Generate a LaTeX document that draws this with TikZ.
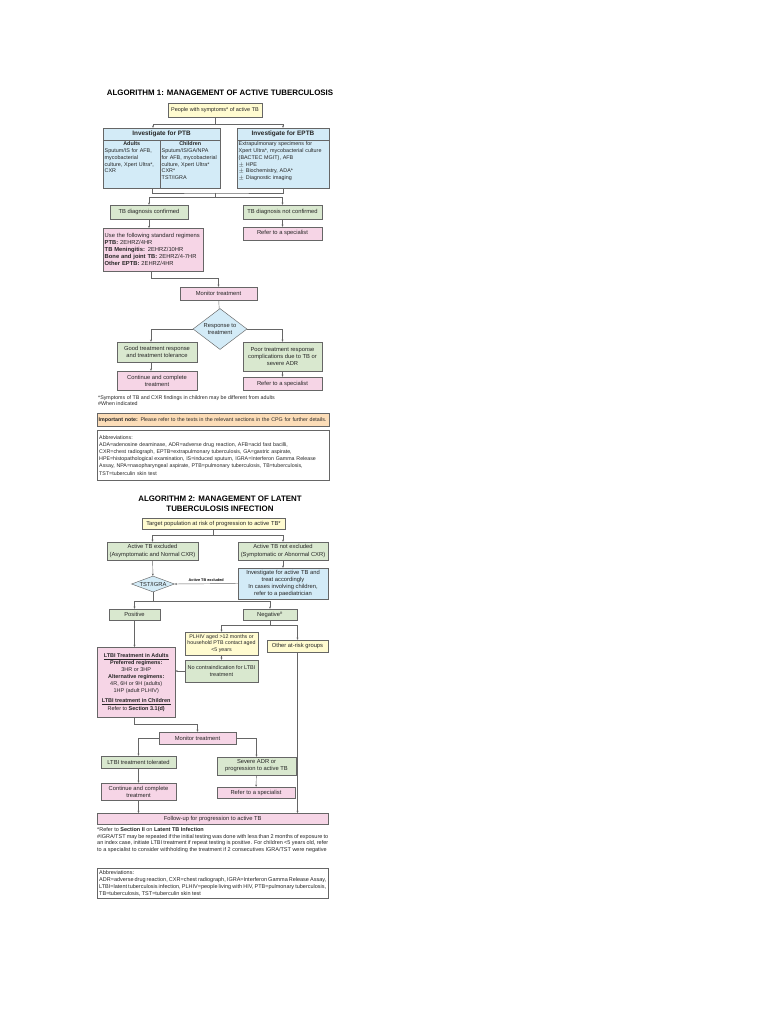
\documentclass[tikz,border=0pt]{standalone}
\usepackage{fontspec}
\setmainfont{Liberation Sans}
\usetikzlibrary{arrows.meta,shapes.geometric}
\definecolor{cy}{HTML}{FFFBD0}
\definecolor{cb}{HTML}{D3EBF7}
\definecolor{cg}{HTML}{D9E8CF}
\definecolor{cp}{HTML}{F6D5E6}
\definecolor{co}{HTML}{FCDDB8}
\definecolor{ce}{HTML}{666666}
\hyphenpenalty=10000
\tikzset{
 fs/.style={font=\fontsize{5.8}{7.1}\selectfont},
 bx/.style={draw=ce,line width=0.45pt,align=center,inner sep=1pt,fs,text=black!85},
 yb/.style={bx,fill=cy}, bb/.style={bx,fill=cb}, gb/.style={bx,fill=cg}, pb/.style={bx,fill=cp},
 sz/.style 2 args={minimum width=#1pt,minimum height=#2pt},
 ln/.style={draw=ce,line width=0.45pt},
 arr/.style={ln,-{Stealth[length=2.2pt,width=2pt]}},
 ttl/.style={font=\fontsize{7.9}{9.6}\selectfont\bfseries,align=center},
 note/.style={font=\fontsize{5.3}{6.6}\selectfont,align=left,inner sep=0pt,anchor=north west,text=black!85},
 intext/.style={font=\fontsize{5.4}{6.8}\selectfont,anchor=north,align=left,inner sep=1.5pt,text=black!85},
}
\begin{document}
\hyphenpenalty=10000
\begin{tikzpicture}[x=1pt,y=-1pt]
\useasboundingbox[fill=white] (0,0) rectangle (768,1024);
% ===== Algorithm 1 =====
\node[ttl] (t1) at (220,93) {ALGORITHM 1: MANAGEMENT OF ACTIVE TUBERCULOSIS};
\node[yb,sz={94}{14},font=\fontsize{5.5}{7}\selectfont] (people) at (215,110.5) {People with symptoms* of active TB};
\node[bb,sz={117}{12},font=\fontsize{6.4}{7.5}\selectfont\bfseries] (ptbh) at (161.5,134) {Investigate for PTB};
\node[bb,sz={57}{48},anchor=north west] (ptba) at (103,140) {};
\node[intext,text width=54pt] (ptbat) at (ptba.north) {\makebox[54pt]{\textbf{Adults}}\\Sputum/IS for AFB,\\mycobacterial\\culture, Xpert Ultra*,\\CXR};
\node[bb,sz={60}{48},anchor=north west] (ptbc) at (160,140) {};
\node[intext,text width=57pt] (ptbct) at (ptbc.north) {\makebox[57pt]{\textbf{Children}}\\Sputum/IS/GA/NPA\\for AFB, mycobacterial\\culture, Xpert Ultra*\\CXR*\\TST/IGRA};
\node[bb,sz={92}{12},font=\fontsize{6.4}{7.5}\selectfont\bfseries] (epth) at (283,134) {Investigate for EPTB};
\node[bb,sz={92}{48},anchor=north west] (eptb) at (237,140) {};
\node[intext,text width=89pt] (eptbt) at (eptb.north) {Extrapulmonary specimens for\\Xpert Ultra*, mycobacterial culture\\(BACTEC MGIT), AFB\\$\pm$ HPE\\$\pm$ Biochemistry, ADA*\\$\pm$ Diagnostic imaging};
\coordinate (j1) at (215,124);
\draw[ln] (people) -- (j1);
\draw[arr] (j1) -| ([xshift=-8.5pt]ptbh.north);
\draw[arr] (j1) -| (epth.north);
\coordinate (j2) at (215,193);
\coordinate (j3) at (215,197);
\draw[ln] ([xshift=-8.5pt]ptba.south east) |- (j2) -| (eptb.south);
\draw[ln] (j2) -- (j3);
\node[gb,sz={78}{14}] (conf) at (149,212) {TB diagnosis confirmed};
\node[gb,sz={79}{14}] (nconf) at (282.5,212) {TB diagnosis not confirmed};
\draw[arr] (j3) -| (conf.north);
\draw[arr] (j3) -| (nconf.north);
\node[pb,sz={100}{43},anchor=north west,align=left,text width=97pt] (reg) at (103,228) {Use the following standard regimens\\\textbf{PTB:} 2EHRZ/4HR\\\textbf{TB Meningitis:} 2EHRZ/10HR\\\textbf{Bone and joint TB:} 2EHRZ/4-7HR\\\textbf{Other EPTB:} 2EHRZ/4HR};
\node[pb,sz={79}{13}] (ref1) at (282.5,233.5) {Refer to a specialist};
\draw[arr] (conf) -- (conf.south |- reg.north);
\draw[arr] (nconf) -- (ref1);
\node[pb,sz={77}{13}] (mon1) at (218.5,293.5) {Monitor treatment};
\coordinate (j4) at (151,278);
\draw[arr] (reg.south -| j4) -- (j4) -| (mon1.north);
\node[diamond,bb,shape aspect=1.3,minimum width=54pt,minimum height=41pt,inner sep=0pt] (resp) at (220,329) {Response to\\treatment};
\draw[ln] (mon1) -- (resp);
\node[gb,sz={80}{20}] (good) at (157,352) {Good treatment response\\and treatment tolerance};
\node[gb,sz={79}{29}] (poor) at (282.5,356.5) {Poor treatment response\\complications due to TB or\\severe ADR};
\draw[arr] (resp.west) -| ([xshift=-6pt]good.north);
\draw[arr] (resp.east) -| (poor.north);
\node[pb,sz={80}{19}] (cont1) at (157,380.5) {Continue and complete\\treatment};
\node[pb,sz={79}{13}] (ref2) at (282.5,383.5) {Refer to a specialist};
\draw[arr] ([xshift=-6pt]good.south) -- ([xshift=-6pt]cont1.north);
\draw[arr] (poor) -- (ref2);
\node[note] (fn1) at (98,395) {*Symptoms of TB and CXR findings in children may be different from adults\\\#When indicated};
\node[bx,fill=co,anchor=north west,minimum width=232pt,minimum height=13pt,align=left,text width=229pt,font=\fontsize{5.3}{6.4}\selectfont] (imp) at (97,413) {\textbf{Important note:} Please refer to the texts in the relevant sections in the CPG for further details.};
\node[bx,anchor=north west,minimum width=232pt,minimum height=50pt,align=left,text width=228pt,inner sep=2pt,font=\fontsize{5.3}{7.2}\selectfont] (ab1) at (97,430) {Abbreviations:\\ADA=adenosine deaminase, ADR=adverse drug reaction, AFB=acid fast bacilli, CXR=chest radiograph, EPTB=extrapulmonary tuberculosis, GA=gastric aspirate, HPE=histopathological examination, IS=induced sputum, IGRA=Interferon Gamma Release Assay, NPA=nasopharyngeal aspirate, PTB=pulmonary tuberculosis, TB=tuberculosis, TST=tuberculin skin test};
% ===== Algorithm 2 =====
\node[ttl] (t2) at (220,504) {ALGORITHM 2: MANAGEMENT OF LATENT\\TUBERCULOSIS INFECTION};
\node[yb,sz={143}{11}] (target) at (213.5,524) {Target population at risk of progression to active TB*};
\coordinate (k1) at (213.5,535);
\draw[ln] (target) -- (k1);
\node[gb,sz={91}{18}] (excl) at (152.5,551) {Active TB excluded\\(Asymptomatic and Normal CXR)};
\node[gb,sz={90}{18}] (nexcl) at (283,551) {Active TB not excluded\\(Symptomatic or Abnormal CXR)};
\draw[arr] (k1) -| (excl.north);
\draw[arr] (k1) -| (nexcl.north);
\node[diamond,bb,shape aspect=2.6,minimum width=43pt,minimum height=16pt,inner sep=0pt] (tst) at (153,584) {TST/IGRA};
\node[bb,sz={90}{31}] (inv) at (283,583.5) {Investigate for active TB and\\treat accordingly\\In cases involving children,\\refer to a paediatrician};
\draw[arr] (excl) -- (tst);
\draw[arr] (nexcl) -- (inv);
\draw[arr] (inv.west) -- node[above,font=\fontsize{3.8}{4}\selectfont\bfseries,inner sep=1.5pt]{Active TB excluded} (tst.east);
\node[gb,sz={51}{11}] (pos) at (134.5,614.5) {Positive};
\node[gb,sz={54}{11}] (neg) at (270,614.5) {Negative\textsuperscript{\#}};
\coordinate (k2) at (153,601);
\draw[ln] (tst) -- (k2);
\draw[arr] (k2) -| (pos.north);
\draw[arr] (k2) -| (neg.north);
\node[yb,sz={73}{23},font=\fontsize{5.3}{6.8}\selectfont] (plhiv) at (221.5,643.5) {PLHIV aged >12 months or\\household PTB contact aged\\<5 years};
\node[yb,sz={61}{12}] (other) at (297.5,646) {Other at-risk groups};
\coordinate (k3) at (270,625);
\draw[ln] (neg) -- (k3);
\draw[arr] (k3) -| (plhiv.north);
\draw[arr] (k3) -| (other.north);
\node[pb,sz={78}{70},anchor=north west,inner sep=0.5pt,font=\fontsize{5.5}{7.1}\selectfont] (ltbi) at (97,647) {\underline{\textbf{LTBI Treatment in Adults}}\\\textbf{Preferred regimens:}\\3HR or 3HP\\\textbf{Alternative regimens:}\\4R, 6H or 9H (adults)\\1HP (adult PLHIV)\\[3pt]\underline{\textbf{LTBI treatment in Children}}\\Refer to \textbf{Section 3.1(d)}};
\draw[arr] (pos.south) -- (pos.south |- ltbi.north);
\node[gb,sz={73}{22},font=\fontsize{5.5}{6.9}\selectfont] (noci) at (221.5,671) {No contraindication for LTBI\\treatment};
\draw[arr] (plhiv) -- (noci);
\draw[arr] (noci.west) -- (noci.west -| ltbi.east);
\node[pb,sz={77}{12}] (mon2) at (197.5,738) {Monitor treatment};
\coordinate (k4) at (134,724);
\draw[arr] (ltbi.south -| k4) -- (k4) -| (mon2.north);
\node[gb,sz={75}{12}] (tol) at (138.5,762) {LTBI treatment tolerated};
\node[gb,sz={79}{18}] (sev) at (256.5,766) {Severe ADR or\\progression to active TB};
\draw[arr] (mon2.west) -| (tol.north);
\draw[arr] (mon2.east) -| (sev.north);
\node[pb,sz={75}{17}] (cont2) at (138.5,791.5) {Continue and complete\\treatment};
\node[pb,sz={78}{11}] (ref3) at (256,792.5) {Refer to a specialist};
\draw[arr] (tol) -- (cont2);
\draw[arr] (sev) -- (ref3);
\node[pb,sz={231}{11},anchor=north west] (fu) at (97,813) {Follow-up for progression to active TB};
\draw[arr] (cont2.south) -- (cont2.south |- fu.north);
\draw[arr] (other.south) -- (other.south |- fu.north);
\node[note,text width=231pt,align=justify,font=\fontsize{5.5}{6.9}\selectfont] (fn2) at (97,827) {*Refer to \textbf{Section II} on \textbf{Latent TB Infection}\\\#IGRA/TST may be repeated if the initial testing was done with less than 2 months of exposure to an index case, initiate LTBI treatment if repeat testing is positive. For children <5 years old, refer to a specialist to consider withholding the treatment if 2 consecutives IGRA/TST were negative};
\node[bx,anchor=north west,minimum width=231pt,minimum height=30pt,align=justify,text width=227pt,inner sep=2pt,font=\fontsize{5.5}{6.8}\selectfont] (ab2) at (97,868) {Abbreviations:\\ADR=adverse drug reaction, CXR=chest radiograph, IGRA=Interferon Gamma Release Assay, LTBI=latent tuberculosis infection, PLHIV=people living with HIV, PTB=pulmonary tuberculosis, TB=tuberculosis, TST=tuberculin skin test};
\end{tikzpicture}
\end{document}
